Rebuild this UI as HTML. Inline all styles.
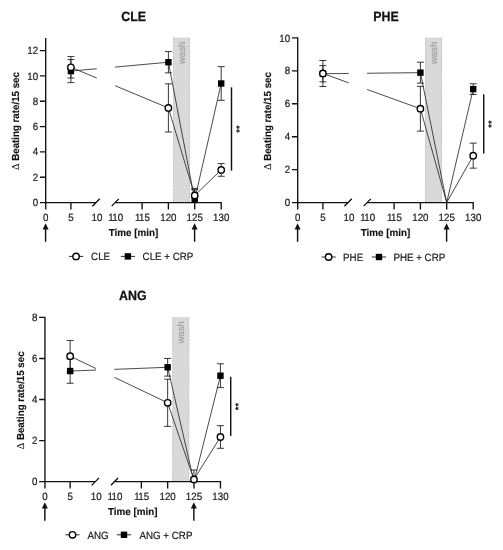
<!DOCTYPE html>
<html><head><meta charset="utf-8"><title>Beating rate</title>
<style>
html,body{margin:0;padding:0;background:#fff;}
svg{display:block;font-family:"Liberation Sans", Arial, sans-serif;text-rendering:geometricPrecision;}
</style></head>
<body>
<svg width="503" height="550" viewBox="0 0 503 550">
<rect width="503" height="550" fill="#fff"/>
<g id="panel-CLE">
<rect x="173.20" y="37.60" width="16.70" height="164.95" fill="#d9d9d9"/>
<path d="M173.50 37.60V202.55M189.60 37.60V202.55" stroke="#c2c2c2" stroke-width="0.8" stroke-dasharray="2.4 1.2" fill="none"/>
<text transform="translate(184.95 64.10) rotate(-90)" font-size="9.6" fill="#9c9c9c" stroke="#9c9c9c" stroke-width="0.15">wash</text>
<path d="M45.70 38.05V203.20 M45.05 202.55H95.80M115.00 202.55H221.85 M92.40 206.30L99.80 198.80 M111.70 206.10L118.80 198.90 M45.70 202.55v6.9 M70.90 202.55v6.9 M142.10 202.55v6.9 M168.40 202.55v6.9 M194.70 202.55v6.9 M221.20 202.55v6.9 M45.70 202.55h-5.8 M45.70 177.22h-5.8 M45.70 151.89h-5.8 M45.70 126.56h-5.8 M45.70 101.23h-5.8 M45.70 75.90h-5.8 M45.70 50.57h-5.8" stroke="#111" stroke-width="1.35" fill="none"/>
<clipPath id="clipCLE"><rect x="0" y="7.90" width="96.75" height="194.65"/><rect x="115.10" y="7.90" width="200" height="194.65"/></clipPath>
<path d="M70.90 71.08 L168.40 62.22 L194.70 199.76 L221.20 83.50" stroke="#222" stroke-width="0.82" fill="none" clip-path="url(#clipCLE)"/>
<path d="M70.90 67.28 L168.40 107.94 L194.70 195.46 L221.20 169.94" stroke="#222" stroke-width="0.82" fill="none" clip-path="url(#clipCLE)"/>
<path d="M70.90 59.56V82.61M67.40 59.56h7M67.40 82.61h7 M168.40 51.58V72.86M164.90 51.58h7M164.90 72.86h7 M194.70 189.63V202.55M191.20 189.63h7 M221.20 66.65V100.34M217.70 66.65h7M217.70 100.34h7" stroke="#222" stroke-width="0.9" fill="none"/>
<path d="M70.90 56.57V78.00M67.40 56.57h7M67.40 78.00h7 M168.40 83.88V132.00M164.90 83.88h7M164.90 132.00h7 M194.70 188.36V202.55M191.20 188.36h7M191.20 202.55h7 M221.20 163.60V176.27M217.70 163.60h7M217.70 176.27h7" stroke="#222" stroke-width="0.9" fill="none"/>
<rect x="67.70" y="67.88" width="6.4" height="6.40" fill="#000"/>
<rect x="165.20" y="59.02" width="6.4" height="6.40" fill="#000"/>
<rect x="191.50" y="196.56" width="6.4" height="6.40" fill="#000"/>
<rect x="218.00" y="80.30" width="6.4" height="6.40" fill="#000"/>
<circle cx="70.90" cy="67.28" r="3.2" fill="#fff" stroke="#000" stroke-width="1.4"/>
<circle cx="168.40" cy="107.94" r="3.2" fill="#fff" stroke="#000" stroke-width="1.4"/>
<circle cx="194.70" cy="195.46" r="3.2" fill="#fff" stroke="#000" stroke-width="1.4"/>
<circle cx="221.20" cy="169.94" r="3.2" fill="#fff" stroke="#000" stroke-width="1.4"/>
<text transform="translate(38.20 206.15) scale(0.93 1)" font-size="10.5" text-anchor="end" fill="#1a1a1a" stroke="#1a1a1a" stroke-width="0.2">0</text>
<text transform="translate(38.20 180.82) scale(0.93 1)" font-size="10.5" text-anchor="end" fill="#1a1a1a" stroke="#1a1a1a" stroke-width="0.2">2</text>
<text transform="translate(38.20 155.49) scale(0.93 1)" font-size="10.5" text-anchor="end" fill="#1a1a1a" stroke="#1a1a1a" stroke-width="0.2">4</text>
<text transform="translate(38.20 130.16) scale(0.93 1)" font-size="10.5" text-anchor="end" fill="#1a1a1a" stroke="#1a1a1a" stroke-width="0.2">6</text>
<text transform="translate(38.20 104.83) scale(0.93 1)" font-size="10.5" text-anchor="end" fill="#1a1a1a" stroke="#1a1a1a" stroke-width="0.2">8</text>
<text transform="translate(38.20 79.50) scale(0.93 1)" font-size="10.5" text-anchor="end" fill="#1a1a1a" stroke="#1a1a1a" stroke-width="0.2">10</text>
<text transform="translate(38.20 54.17) scale(0.93 1)" font-size="10.5" text-anchor="end" fill="#1a1a1a" stroke="#1a1a1a" stroke-width="0.2">12</text>
<text transform="translate(45.70 220.55) scale(0.93 1)" font-size="10.5" text-anchor="middle" fill="#1a1a1a" stroke="#1a1a1a" stroke-width="0.2">0</text>
<text transform="translate(70.90 220.55) scale(0.93 1)" font-size="10.5" text-anchor="middle" fill="#1a1a1a" stroke="#1a1a1a" stroke-width="0.2">5</text>
<text transform="translate(96.90 220.55) scale(0.93 1)" font-size="10.5" text-anchor="middle" fill="#1a1a1a" stroke="#1a1a1a" stroke-width="0.2">10</text>
<text transform="translate(115.75 220.55) scale(0.93 1)" font-size="10.5" text-anchor="middle" fill="#1a1a1a" stroke="#1a1a1a" stroke-width="0.2">1<tspan dx="-0.78">1</tspan>0</text>
<text transform="translate(142.45 220.55) scale(0.93 1)" font-size="10.5" text-anchor="middle" fill="#1a1a1a" stroke="#1a1a1a" stroke-width="0.2">1<tspan dx="-0.78">1</tspan>5</text>
<text transform="translate(168.40 220.55) scale(0.93 1)" font-size="10.5" text-anchor="middle" fill="#1a1a1a" stroke="#1a1a1a" stroke-width="0.2">120</text>
<text transform="translate(194.70 220.55) scale(0.93 1)" font-size="10.5" text-anchor="middle" fill="#1a1a1a" stroke="#1a1a1a" stroke-width="0.2">125</text>
<text transform="translate(221.20 220.55) scale(0.93 1)" font-size="10.5" text-anchor="middle" fill="#1a1a1a" stroke="#1a1a1a" stroke-width="0.2">130</text>
<text transform="translate(133.50 236.35) scale(0.965 1)" font-size="10.2" text-anchor="middle" font-weight="bold" fill="#111" stroke="#111" stroke-width="0.15">Time [min]</text>
<text transform="translate(18.50 121.03) rotate(-90) scale(0.955 1)" font-size="10.2" text-anchor="middle" font-weight="bold" fill="#111" stroke="#111" stroke-width="0.15"><tspan font-weight="normal" font-family="'Liberation Serif', serif" font-size="10.5">Δ</tspan> Beating rate/15 sec</text>
<text transform="translate(133.70 21.20) scale(0.927 1)" font-size="13.4" text-anchor="middle" font-weight="bold" fill="#111" stroke="#111" stroke-width="0.25">CLE</text>
<path d="M45.60 241.75V227.55" stroke="#111" stroke-width="1.45" fill="none"/>
<path d="M42.60 229.45L45.60 223.15L48.60 229.45Z" fill="#111"/>
<path d="M194.60 241.75V227.55" stroke="#111" stroke-width="1.45" fill="none"/>
<path d="M191.60 229.45L194.60 223.15L197.60 229.45Z" fill="#111"/>
<path d="M231.50 87.30V170.60" stroke="#111" stroke-width="1.45" fill="none"/>
<text transform="translate(241.50 128.75) rotate(-90)" font-size="8" text-anchor="middle" font-weight="bold" fill="#111" stroke="#111" stroke-width="0.25" letter-spacing="0.75">**</text>
<path d="M69.00 256.40h14.2" stroke="#111" stroke-width="0.9"/>
<circle cx="76.10" cy="256.40" r="3.2" fill="#fff" stroke="#000" stroke-width="1.4"/>
<path d="M120.80 256.40h14.2" stroke="#111" stroke-width="0.9"/>
<rect x="124.70" y="253.20" width="6.4" height="6.4" fill="#000"/>
<text transform="translate(91.10 260.15) scale(0.93 1)" font-size="10.5" fill="#1a1a1a" stroke="#1a1a1a" stroke-width="0.2">CLE</text>
<text transform="translate(142.60 260.15) scale(0.93 1)" font-size="10.5" fill="#1a1a1a" stroke="#1a1a1a" stroke-width="0.2">CLE + CRP</text>
</g>
<g id="panel-PHE">
<rect x="425.20" y="37.64" width="16.70" height="164.91" fill="#d9d9d9"/>
<path d="M425.50 37.64V202.55M441.60 37.64V202.55" stroke="#c2c2c2" stroke-width="0.8" stroke-dasharray="2.4 1.2" fill="none"/>
<text transform="translate(436.95 64.14) rotate(-90)" font-size="9.6" fill="#9c9c9c" stroke="#9c9c9c" stroke-width="0.15">wash</text>
<path d="M297.70 37.29V203.20 M297.05 202.55H347.80M367.00 202.55H473.85 M344.40 206.30L351.80 198.80 M363.70 206.10L370.80 198.90 M297.70 202.55v6.9 M322.90 202.55v6.9 M394.10 202.55v6.9 M420.40 202.55v6.9 M446.70 202.55v6.9 M473.20 202.55v6.9 M297.70 202.55h-5.8 M297.70 169.63h-5.8 M297.70 136.71h-5.8 M297.70 103.78h-5.8 M297.70 70.86h-5.8 M297.70 37.94h-5.8" stroke="#111" stroke-width="1.35" fill="none"/>
<clipPath id="clipPHE"><rect x="252" y="7.94" width="96.75" height="194.61"/><rect x="367.10" y="7.94" width="200" height="194.61"/></clipPath>
<path d="M322.90 73.74 L420.40 72.67 L446.70 202.55 L473.20 89.13" stroke="#222" stroke-width="0.82" fill="none" clip-path="url(#clipPHE)"/>
<path d="M322.90 73.50 L420.40 108.72 L446.70 202.55 L473.20 155.64" stroke="#222" stroke-width="0.82" fill="none" clip-path="url(#clipPHE)"/>
<path d="M322.90 65.59V81.89M319.40 65.59h7M319.40 81.89h7 M420.40 62.22V83.13M416.90 62.22h7M416.90 83.13h7 M473.20 83.78V94.48M469.70 83.78h7M469.70 94.48h7" stroke="#222" stroke-width="0.9" fill="none"/>
<path d="M322.90 60.49V86.50M319.40 60.49h7M319.40 86.50h7 M420.40 86.34V131.11M416.90 86.34h7M416.90 131.11h7 M473.20 143.13V168.15M469.70 143.13h7M469.70 168.15h7" stroke="#222" stroke-width="0.9" fill="none"/>
<rect x="319.70" y="70.54" width="6.4" height="6.40" fill="#000"/>
<rect x="417.20" y="69.47" width="6.4" height="6.40" fill="#000"/>
<rect x="470.00" y="85.93" width="6.4" height="6.40" fill="#000"/>
<circle cx="322.90" cy="73.50" r="3.2" fill="#fff" stroke="#000" stroke-width="1.4"/>
<circle cx="420.40" cy="108.72" r="3.2" fill="#fff" stroke="#000" stroke-width="1.4"/>
<circle cx="473.20" cy="155.64" r="3.2" fill="#fff" stroke="#000" stroke-width="1.4"/>
<text transform="translate(290.20 206.15) scale(0.93 1)" font-size="10.5" text-anchor="end" fill="#1a1a1a" stroke="#1a1a1a" stroke-width="0.2">0</text>
<text transform="translate(290.20 173.23) scale(0.93 1)" font-size="10.5" text-anchor="end" fill="#1a1a1a" stroke="#1a1a1a" stroke-width="0.2">2</text>
<text transform="translate(290.20 140.31) scale(0.93 1)" font-size="10.5" text-anchor="end" fill="#1a1a1a" stroke="#1a1a1a" stroke-width="0.2">4</text>
<text transform="translate(290.20 107.38) scale(0.93 1)" font-size="10.5" text-anchor="end" fill="#1a1a1a" stroke="#1a1a1a" stroke-width="0.2">6</text>
<text transform="translate(290.20 74.46) scale(0.93 1)" font-size="10.5" text-anchor="end" fill="#1a1a1a" stroke="#1a1a1a" stroke-width="0.2">8</text>
<text transform="translate(290.20 41.54) scale(0.93 1)" font-size="10.5" text-anchor="end" fill="#1a1a1a" stroke="#1a1a1a" stroke-width="0.2">10</text>
<text transform="translate(297.70 220.55) scale(0.93 1)" font-size="10.5" text-anchor="middle" fill="#1a1a1a" stroke="#1a1a1a" stroke-width="0.2">0</text>
<text transform="translate(322.90 220.55) scale(0.93 1)" font-size="10.5" text-anchor="middle" fill="#1a1a1a" stroke="#1a1a1a" stroke-width="0.2">5</text>
<text transform="translate(348.90 220.55) scale(0.93 1)" font-size="10.5" text-anchor="middle" fill="#1a1a1a" stroke="#1a1a1a" stroke-width="0.2">10</text>
<text transform="translate(367.75 220.55) scale(0.93 1)" font-size="10.5" text-anchor="middle" fill="#1a1a1a" stroke="#1a1a1a" stroke-width="0.2">1<tspan dx="-0.78">1</tspan>0</text>
<text transform="translate(394.45 220.55) scale(0.93 1)" font-size="10.5" text-anchor="middle" fill="#1a1a1a" stroke="#1a1a1a" stroke-width="0.2">1<tspan dx="-0.78">1</tspan>5</text>
<text transform="translate(420.40 220.55) scale(0.93 1)" font-size="10.5" text-anchor="middle" fill="#1a1a1a" stroke="#1a1a1a" stroke-width="0.2">120</text>
<text transform="translate(446.70 220.55) scale(0.93 1)" font-size="10.5" text-anchor="middle" fill="#1a1a1a" stroke="#1a1a1a" stroke-width="0.2">125</text>
<text transform="translate(473.20 220.55) scale(0.93 1)" font-size="10.5" text-anchor="middle" fill="#1a1a1a" stroke="#1a1a1a" stroke-width="0.2">130</text>
<text transform="translate(385.50 236.35) scale(0.965 1)" font-size="10.2" text-anchor="middle" font-weight="bold" fill="#111" stroke="#111" stroke-width="0.15">Time [min]</text>
<text transform="translate(270.50 121.05) rotate(-90) scale(0.955 1)" font-size="10.2" text-anchor="middle" font-weight="bold" fill="#111" stroke="#111" stroke-width="0.15"><tspan font-weight="normal" font-family="'Liberation Serif', serif" font-size="10.5">Δ</tspan> Beating rate/15 sec</text>
<text transform="translate(385.90 21.00) scale(0.927 1)" font-size="13.4" text-anchor="middle" font-weight="bold" fill="#111" stroke="#111" stroke-width="0.25">PHE</text>
<path d="M297.60 241.75V227.55" stroke="#111" stroke-width="1.45" fill="none"/>
<path d="M294.60 229.45L297.60 223.15L300.60 229.45Z" fill="#111"/>
<path d="M446.60 241.75V227.55" stroke="#111" stroke-width="1.45" fill="none"/>
<path d="M443.60 229.45L446.60 223.15L449.60 229.45Z" fill="#111"/>
<path d="M483.70 94.30V153.50" stroke="#111" stroke-width="1.45" fill="none"/>
<text transform="translate(493.70 123.70) rotate(-90)" font-size="8" text-anchor="middle" font-weight="bold" fill="#111" stroke="#111" stroke-width="0.25" letter-spacing="0.75">**</text>
<path d="M321.50 257.00h14.2" stroke="#111" stroke-width="0.9"/>
<circle cx="328.60" cy="257.00" r="3.2" fill="#fff" stroke="#000" stroke-width="1.4"/>
<path d="M371.90 257.00h14.2" stroke="#111" stroke-width="0.9"/>
<rect x="375.80" y="253.80" width="6.4" height="6.4" fill="#000"/>
<text transform="translate(343.10 260.75) scale(0.93 1)" font-size="10.5" fill="#1a1a1a" stroke="#1a1a1a" stroke-width="0.2">PHE</text>
<text transform="translate(393.40 260.75) scale(0.93 1)" font-size="10.5" fill="#1a1a1a" stroke="#1a1a1a" stroke-width="0.2">PHE + CRP</text>
</g>
<g id="panel-ANG">
<rect x="172.45" y="317.10" width="16.70" height="164.55" fill="#d9d9d9"/>
<path d="M172.75 317.10V481.65M188.85 317.10V481.65" stroke="#c2c2c2" stroke-width="0.8" stroke-dasharray="2.4 1.2" fill="none"/>
<text transform="translate(184.20 343.60) rotate(-90)" font-size="9.6" fill="#9c9c9c" stroke="#9c9c9c" stroke-width="0.15">wash</text>
<path d="M44.95 316.75V482.30 M44.30 481.65H95.05M114.25 481.65H221.10 M91.65 485.40L99.05 477.90 M110.95 485.20L118.05 478.00 M44.95 481.65v6.9 M70.15 481.65v6.9 M141.35 481.65v6.9 M167.65 481.65v6.9 M193.95 481.65v6.9 M220.45 481.65v6.9 M44.95 481.65h-5.8 M44.95 440.59h-5.8 M44.95 399.52h-5.8 M44.95 358.46h-5.8 M44.95 317.40h-5.8" stroke="#111" stroke-width="1.35" fill="none"/>
<clipPath id="clipANG"><rect x="-0.75" y="287.40" width="96.75" height="194.25"/><rect x="114.35" y="287.40" width="200" height="194.25"/></clipPath>
<path d="M70.15 371.05 L167.65 367.29 L193.95 481.65 L220.45 375.71" stroke="#222" stroke-width="0.82" fill="none" clip-path="url(#clipANG)"/>
<path d="M70.15 356.20 L167.65 402.81 L193.95 479.45 L220.45 436.99" stroke="#222" stroke-width="0.82" fill="none" clip-path="url(#clipANG)"/>
<path d="M70.15 358.81V383.28M66.65 358.81h7M66.65 383.28h7 M167.65 358.46V376.12M164.15 358.46h7M164.15 376.12h7 M220.45 363.80V387.62M216.95 363.80h7M216.95 387.62h7" stroke="#222" stroke-width="0.9" fill="none"/>
<path d="M70.15 340.48V371.93M66.65 340.48h7M66.65 371.93h7 M167.65 379.20V426.42M164.15 379.20h7M164.15 426.42h7 M193.95 470.01V481.65M190.45 470.01h7 M220.45 425.70V448.29M216.95 425.70h7M216.95 448.29h7" stroke="#222" stroke-width="0.9" fill="none"/>
<rect x="66.95" y="367.85" width="6.4" height="6.40" fill="#000"/>
<rect x="164.45" y="364.09" width="6.4" height="6.40" fill="#000"/>
<rect x="217.25" y="372.51" width="6.4" height="6.40" fill="#000"/>
<circle cx="70.15" cy="356.20" r="3.2" fill="#fff" stroke="#000" stroke-width="1.4"/>
<circle cx="167.65" cy="402.81" r="3.2" fill="#fff" stroke="#000" stroke-width="1.4"/>
<circle cx="193.95" cy="479.45" r="3.2" fill="#fff" stroke="#000" stroke-width="1.4"/>
<circle cx="220.45" cy="436.99" r="3.2" fill="#fff" stroke="#000" stroke-width="1.4"/>
<text transform="translate(37.45 485.25) scale(0.93 1)" font-size="10.5" text-anchor="end" fill="#1a1a1a" stroke="#1a1a1a" stroke-width="0.2">0</text>
<text transform="translate(37.45 444.19) scale(0.93 1)" font-size="10.5" text-anchor="end" fill="#1a1a1a" stroke="#1a1a1a" stroke-width="0.2">2</text>
<text transform="translate(37.45 403.12) scale(0.93 1)" font-size="10.5" text-anchor="end" fill="#1a1a1a" stroke="#1a1a1a" stroke-width="0.2">4</text>
<text transform="translate(37.45 362.06) scale(0.93 1)" font-size="10.5" text-anchor="end" fill="#1a1a1a" stroke="#1a1a1a" stroke-width="0.2">6</text>
<text transform="translate(37.45 321.00) scale(0.93 1)" font-size="10.5" text-anchor="end" fill="#1a1a1a" stroke="#1a1a1a" stroke-width="0.2">8</text>
<text transform="translate(44.95 499.65) scale(0.93 1)" font-size="10.5" text-anchor="middle" fill="#1a1a1a" stroke="#1a1a1a" stroke-width="0.2">0</text>
<text transform="translate(70.15 499.65) scale(0.93 1)" font-size="10.5" text-anchor="middle" fill="#1a1a1a" stroke="#1a1a1a" stroke-width="0.2">5</text>
<text transform="translate(96.15 499.65) scale(0.93 1)" font-size="10.5" text-anchor="middle" fill="#1a1a1a" stroke="#1a1a1a" stroke-width="0.2">10</text>
<text transform="translate(115.00 499.65) scale(0.93 1)" font-size="10.5" text-anchor="middle" fill="#1a1a1a" stroke="#1a1a1a" stroke-width="0.2">1<tspan dx="-0.78">1</tspan>0</text>
<text transform="translate(141.70 499.65) scale(0.93 1)" font-size="10.5" text-anchor="middle" fill="#1a1a1a" stroke="#1a1a1a" stroke-width="0.2">1<tspan dx="-0.78">1</tspan>5</text>
<text transform="translate(167.65 499.65) scale(0.93 1)" font-size="10.5" text-anchor="middle" fill="#1a1a1a" stroke="#1a1a1a" stroke-width="0.2">120</text>
<text transform="translate(193.95 499.65) scale(0.93 1)" font-size="10.5" text-anchor="middle" fill="#1a1a1a" stroke="#1a1a1a" stroke-width="0.2">125</text>
<text transform="translate(220.45 499.65) scale(0.93 1)" font-size="10.5" text-anchor="middle" fill="#1a1a1a" stroke="#1a1a1a" stroke-width="0.2">130</text>
<text transform="translate(132.75 515.45) scale(0.965 1)" font-size="10.2" text-anchor="middle" font-weight="bold" fill="#111" stroke="#111" stroke-width="0.15">Time [min]</text>
<text transform="translate(24.40 400.32) rotate(-90) scale(0.955 1)" font-size="10.2" text-anchor="middle" font-weight="bold" fill="#111" stroke="#111" stroke-width="0.15"><tspan font-weight="normal" font-family="'Liberation Serif', serif" font-size="10.5">Δ</tspan> Beating rate/15 sec</text>
<text transform="translate(132.80 299.80) scale(0.927 1)" font-size="13.4" text-anchor="middle" font-weight="bold" fill="#111" stroke="#111" stroke-width="0.25">ANG</text>
<path d="M44.85 520.85V506.65" stroke="#111" stroke-width="1.45" fill="none"/>
<path d="M41.85 508.55L44.85 502.25L47.85 508.55Z" fill="#111"/>
<path d="M193.85 520.85V506.65" stroke="#111" stroke-width="1.45" fill="none"/>
<path d="M190.85 508.55L193.85 502.25L196.85 508.55Z" fill="#111"/>
<path d="M230.70 376.80V435.90" stroke="#111" stroke-width="1.45" fill="none"/>
<text transform="translate(240.70 406.15) rotate(-90)" font-size="8" text-anchor="middle" font-weight="bold" fill="#111" stroke="#111" stroke-width="0.25" letter-spacing="0.75">**</text>
<path d="M65.40 534.80h14.2" stroke="#111" stroke-width="0.9"/>
<circle cx="72.50" cy="534.80" r="3.2" fill="#fff" stroke="#000" stroke-width="1.4"/>
<path d="M116.90 534.80h14.2" stroke="#111" stroke-width="0.9"/>
<rect x="120.80" y="531.60" width="6.4" height="6.4" fill="#000"/>
<text transform="translate(87.50 538.55) scale(0.93 1)" font-size="10.5" fill="#1a1a1a" stroke="#1a1a1a" stroke-width="0.2">ANG</text>
<text transform="translate(139.50 538.55) scale(0.93 1)" font-size="10.5" fill="#1a1a1a" stroke="#1a1a1a" stroke-width="0.2">ANG + CRP</text>
</g>
</svg>
</body></html>
